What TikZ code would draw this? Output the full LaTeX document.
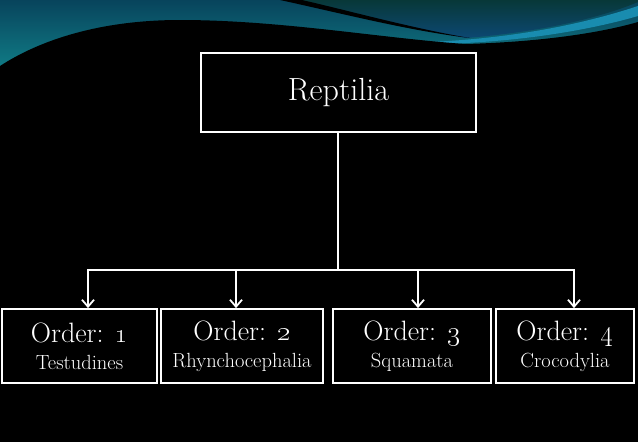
\documentclass[tikz,border=0pt]{standalone}
\usepackage{fix-cm}
\usetikzlibrary{arrows.meta}
\definecolor{tealTop}{RGB}{8,68,92}
\definecolor{tealBot}{RGB}{16,125,135}
\definecolor{darkR}{RGB}{8,56,56}
\definecolor{blueR}{RGB}{12,72,115}
\definecolor{streak}{RGB}{25,140,175}
\definecolor{thin}{RGB}{90,170,170}
\tikzset{
  box/.style={draw=white, line width=1.8pt, fill=black, text=white, align=center, inner sep=0pt},
  ordbox/.style={box, minimum height=74pt, font=\fontsize{20.5}{27}\selectfont},
  conn/.style={draw=white, line width=1.8pt},
  arr/.style={conn, -{Straight Barb[length=7pt,width=12pt,line width=1.8pt]}},
}
\newcommand{\ordtxt}[2]{{\fontsize{28}{28}\selectfont Order: \oldstylenums{#1}}\\#2}
\begin{document}
\begin{tikzpicture}[x=1pt,y=-1pt]
\useasboundingbox (0,0) rectangle (638,442);
\fill[black] (0,0) rectangle (638,442);
% top teal background
\shade[top color=tealTop, bottom color=tealBot] (0,0) rectangle (638,70);
% dark region at top right, above the black band
\shade[top color=darkR, bottom color=blueR] (295,0) .. controls (350,14) and (420,30) .. (466,38) .. controls (540,32) and (600,18) .. (638,2) -- (638,0) -- cycle;
% bright streak
\fill[streak] (430,42) .. controls (520,38) and (590,22) .. (638,6) -- (638,16) .. controls (590,30) and (520,42) .. (440,44) -- cycle;
% black upper band
\fill[black] (280,0) .. controls (340,13) and (410,31) .. (470,38) .. controls (415,29) and (350,11) .. (302,0) -- cycle;
% lower black wave
\fill[black] (0,66) .. controls (40,40) and (100,20) .. (180,20) .. controls (280,20) and (380,38) .. (465,44) .. controls (540,42) and (600,33) .. (638,22) -- (638,442) -- (0,442) -- cycle;
\draw[thin, line width=0.5pt, opacity=0.7] (12,62) .. controls (60,45) and (120,32) .. (180,31) .. controls (260,31) and (330,38) .. (420,44);

% nodes
\node[box, minimum width=275pt, minimum height=79pt, font=\fontsize{32}{34}\selectfont] (top) at (338.5,92.5) {Reptilia};
\node[ordbox, minimum width=155pt] (b1) at (79.5,346) {\ordtxt{1}{Testudines}};
\node[ordbox, minimum width=162pt] (b2) at (242,346) {\ordtxt{2}{Rhynchocephalia}};
\node[ordbox, minimum width=158pt] (b3) at (412,346) {\ordtxt{3}{Squamata}};
\node[ordbox, minimum width=138pt] (b4) at (565,346) {\ordtxt{4}{Crocodylia}};

\coordinate (j) at (338,270);
\coordinate (j1) at (88,270);
\coordinate (j2) at (236,270);
\coordinate (j3) at (418,270);
\coordinate (j4) at (574,270);
\draw[conn] (top.south -| j) -- (j);
\draw[conn, line cap=rect] (j1) -- (j4);
\draw[arr] (j1) -- (j1 |- b1.north);
\draw[arr] (j2) -- (j2 |- b2.north);
\draw[arr] (j3) -- (j3 |- b3.north);
\draw[arr] (j4) -- (j4 |- b4.north);
\end{tikzpicture}
\end{document}
